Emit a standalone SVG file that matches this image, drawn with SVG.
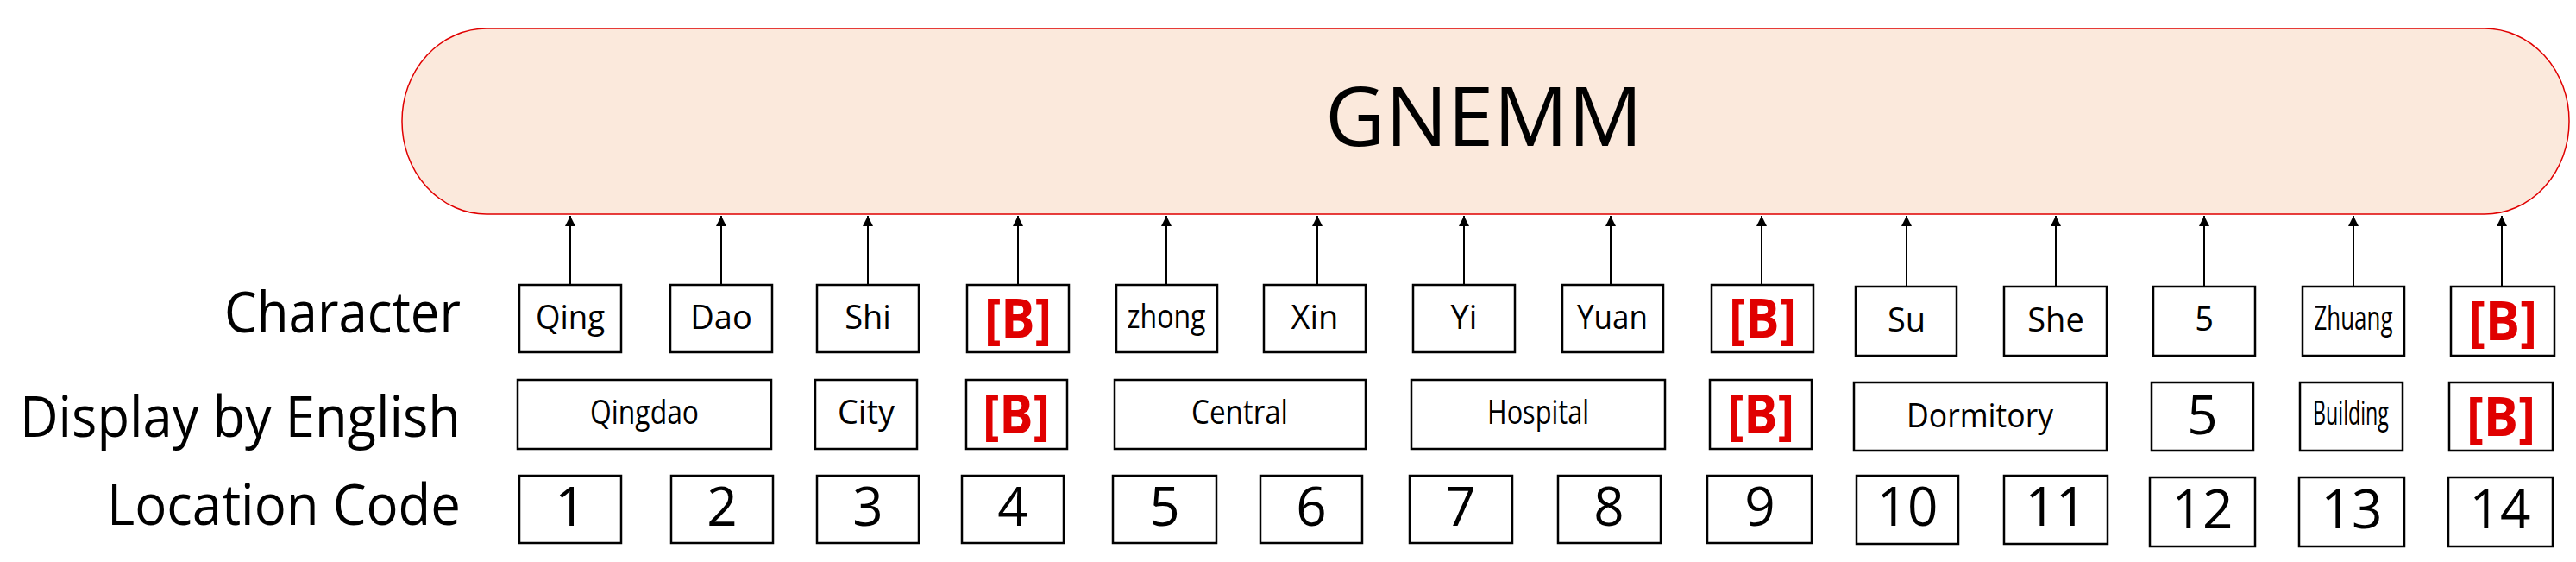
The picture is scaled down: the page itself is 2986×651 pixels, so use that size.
<svg xmlns="http://www.w3.org/2000/svg" width="2986" height="651" viewBox="0 0 2986 651">
<style>
text{font-family:"Open Sans","Liberation Sans",sans-serif;fill:#000}
.b{fill:#fff;stroke:#000;stroke-width:2.5}
.lab{font-size:66px;text-anchor:end}
.t{text-anchor:middle;font-size:38px}
.n{text-anchor:middle;font-size:62px}
.r{text-anchor:middle;font-size:62px;font-weight:bold;fill:#e00000}
.c line{stroke:#000;stroke-width:2}
</style>
<defs>
<marker id="ah" viewBox="0 0 10 10" refX="10" refY="5" markerWidth="14" markerHeight="12" orient="auto" markerUnits="userSpaceOnUse"><path d="M0,0 L10,5 L0,10 z" fill="#000"/></marker></defs>
<g id="gnemm"><rect x="466" y="33" width="2512" height="215" rx="98" ry="107" fill="#fbe9dc" stroke="#e00000" stroke-width="1.5"/><text x="1720" y="169" text-anchor="middle" font-size="96">GNEMM</text></g>
<g id="labels"><text class="lab" x="534" y="385" textLength="274" lengthAdjust="spacingAndGlyphs">Character</text><text class="lab" x="534" y="506" textLength="511" lengthAdjust="spacingAndGlyphs">Display by English</text><text class="lab" x="534" y="608" textLength="410" lengthAdjust="spacingAndGlyphs">Location Code</text></g>
<g class="c" id="connectors">
<line x1="661" y1="330" x2="661" y2="250" marker-end="url(#ah)"/>
<line x1="836" y1="330" x2="836" y2="250" marker-end="url(#ah)"/>
<line x1="1006" y1="330" x2="1006" y2="250" marker-end="url(#ah)"/>
<line x1="1180" y1="330" x2="1180" y2="250" marker-end="url(#ah)"/>
<line x1="1352" y1="330" x2="1352" y2="250" marker-end="url(#ah)"/>
<line x1="1527" y1="330" x2="1527" y2="250" marker-end="url(#ah)"/>
<line x1="1697" y1="330" x2="1697" y2="250" marker-end="url(#ah)"/>
<line x1="1867" y1="330" x2="1867" y2="250" marker-end="url(#ah)"/>
<line x1="2042" y1="330" x2="2042" y2="250" marker-end="url(#ah)"/>
<line x1="2210" y1="332" x2="2210" y2="250" marker-end="url(#ah)"/>
<line x1="2383" y1="332" x2="2383" y2="250" marker-end="url(#ah)"/>
<line x1="2555" y1="332" x2="2555" y2="250" marker-end="url(#ah)"/>
<line x1="2728" y1="332" x2="2728" y2="250" marker-end="url(#ah)"/>
<line x1="2900" y1="332" x2="2900" y2="250" marker-end="url(#ah)"/>
</g>
<g id="char">
<g id="c1"><rect class="b" x="602" y="330" width="118" height="78"/><text class="t" x="661" y="381" textLength="80" lengthAdjust="spacingAndGlyphs">Qing</text></g>
<g id="c2"><rect class="b" x="777" y="330" width="118" height="78"/><text class="t" x="836" y="381">Dao</text></g>
<g id="c3"><rect class="b" x="947" y="330" width="118" height="78"/><text class="t" x="1006" y="381">Shi</text></g>
<g id="c4"><rect class="b" x="1121" y="330" width="118" height="78"/><text class="r" x="1180" y="391" textLength="78" lengthAdjust="spacingAndGlyphs">[B]</text></g>
<g id="c5"><rect class="b" x="1294" y="330" width="117" height="78"/><text class="t" x="1352" y="380" font-size="33" textLength="91" lengthAdjust="spacingAndGlyphs">zhong</text></g>
<g id="c6"><rect class="b" x="1465" y="330" width="118" height="78"/><text class="t" x="1524" y="381">Xin</text></g>
<g id="c7"><rect class="b" x="1638" y="330" width="118" height="78"/><text class="t" x="1697" y="381">Yi</text></g>
<g id="c8"><rect class="b" x="1811" y="330" width="117" height="78"/><text class="t" x="1869" y="381" textLength="82" lengthAdjust="spacingAndGlyphs">Yuan</text></g>
<g id="c9"><rect class="b" x="1984" y="330" width="118" height="78"/><text class="r" x="2043" y="391" textLength="78" lengthAdjust="spacingAndGlyphs">[B]</text></g>
<g id="c10"><rect class="b" x="2151" y="332" width="117" height="80"/><text class="t" x="2210" y="384">Su</text></g>
<g id="c11"><rect class="b" x="2323" y="332" width="119" height="80"/><text class="t" x="2383" y="384">She</text></g>
<g id="c12"><rect class="b" x="2496" y="332" width="118" height="80"/><text class="t" x="2555" y="383">5</text></g>
<g id="c13"><rect class="b" x="2669" y="332" width="118" height="80"/><text class="t" x="2728" y="382" font-size="30" textLength="91" lengthAdjust="spacingAndGlyphs">Zhuang</text></g>
<g id="c14"><rect class="b" x="2841" y="332" width="120" height="80"/><text class="r" x="2901" y="394" textLength="80" lengthAdjust="spacingAndGlyphs">[B]</text></g>
</g>
<g id="eng">
<g id="e1"><rect class="b" x="600" y="440" width="294" height="80"/><text class="t" x="747" y="491" font-size="33" textLength="126" lengthAdjust="spacingAndGlyphs">Qingdao</text></g>
<g id="e2"><rect class="b" x="945" y="440" width="118" height="80"/><text class="t" x="1004" y="491" font-size="33">City</text></g>
<g id="e3"><rect class="b" x="1120" y="440" width="117" height="80"/><text class="r" x="1178" y="502" textLength="78" lengthAdjust="spacingAndGlyphs">[B]</text></g>
<g id="e4"><rect class="b" x="1292" y="440" width="291" height="80"/><text class="t" x="1437" y="491" font-size="33" textLength="112" lengthAdjust="spacingAndGlyphs">Central</text></g>
<g id="e5"><rect class="b" x="1636" y="440" width="294" height="80"/><text class="t" x="1783" y="491" font-size="33" textLength="118" lengthAdjust="spacingAndGlyphs">Hospital</text></g>
<g id="e6"><rect class="b" x="1982" y="440" width="118" height="80"/><text class="r" x="2041" y="502" textLength="78" lengthAdjust="spacingAndGlyphs">[B]</text></g>
<g id="e7"><rect class="b" x="2149" y="443" width="293" height="79"/><text class="t" x="2295" y="495" textLength="170" lengthAdjust="spacingAndGlyphs">Dormitory</text></g>
<g id="e8"><rect class="b" x="2494" y="443" width="118" height="79"/><text class="n" x="2553" y="503">5</text></g>
<g id="e9"><rect class="b" x="2666" y="443" width="119" height="79"/><text class="t" x="2725" y="492" font-size="26" textLength="88" lengthAdjust="spacingAndGlyphs">Building</text></g>
<g id="e10"><rect class="b" x="2839" y="443" width="120" height="79"/><text class="r" x="2899" y="505" textLength="80" lengthAdjust="spacingAndGlyphs">[B]</text></g>
</g>
<g id="loc">
<g id="l1"><rect class="b" x="602" y="551" width="118" height="78"/><text class="n" x="661" y="609">1</text></g>
<g id="l2"><rect class="b" x="778" y="551" width="118" height="78"/><text class="n" x="837" y="609">2</text></g>
<g id="l3"><rect class="b" x="947" y="551" width="118" height="78"/><text class="n" x="1006" y="609">3</text></g>
<g id="l4"><rect class="b" x="1115" y="551" width="118" height="78"/><text class="n" x="1174" y="609">4</text></g>
<g id="l5"><rect class="b" x="1290" y="551" width="120" height="78"/><text class="n" x="1350" y="609">5</text></g>
<g id="l6"><rect class="b" x="1461" y="551" width="118" height="78"/><text class="n" x="1520" y="609">6</text></g>
<g id="l7"><rect class="b" x="1634" y="551" width="119" height="78"/><text class="n" x="1693" y="609">7</text></g>
<g id="l8"><rect class="b" x="1806" y="551" width="119" height="78"/><text class="n" x="1865" y="609">8</text></g>
<g id="l9"><rect class="b" x="1979" y="551" width="121" height="78"/><text class="n" x="2040" y="609">9</text></g>
<g id="l10"><rect class="b" x="2152" y="551" width="118" height="79"/><text class="n" x="2211" y="609">10</text></g>
<g id="l11"><rect class="b" x="2323" y="551" width="120" height="79"/><text class="n" x="2383" y="609">11</text></g>
<g id="l12"><rect class="b" x="2492" y="553" width="122" height="80"/><text class="n" x="2553" y="612">12</text></g>
<g id="l13"><rect class="b" x="2665" y="553" width="122" height="80"/><text class="n" x="2726" y="612">13</text></g>
<g id="l14"><rect class="b" x="2838" y="553" width="121" height="80"/><text class="n" x="2898" y="612">14</text></g>
</g>
</svg>
